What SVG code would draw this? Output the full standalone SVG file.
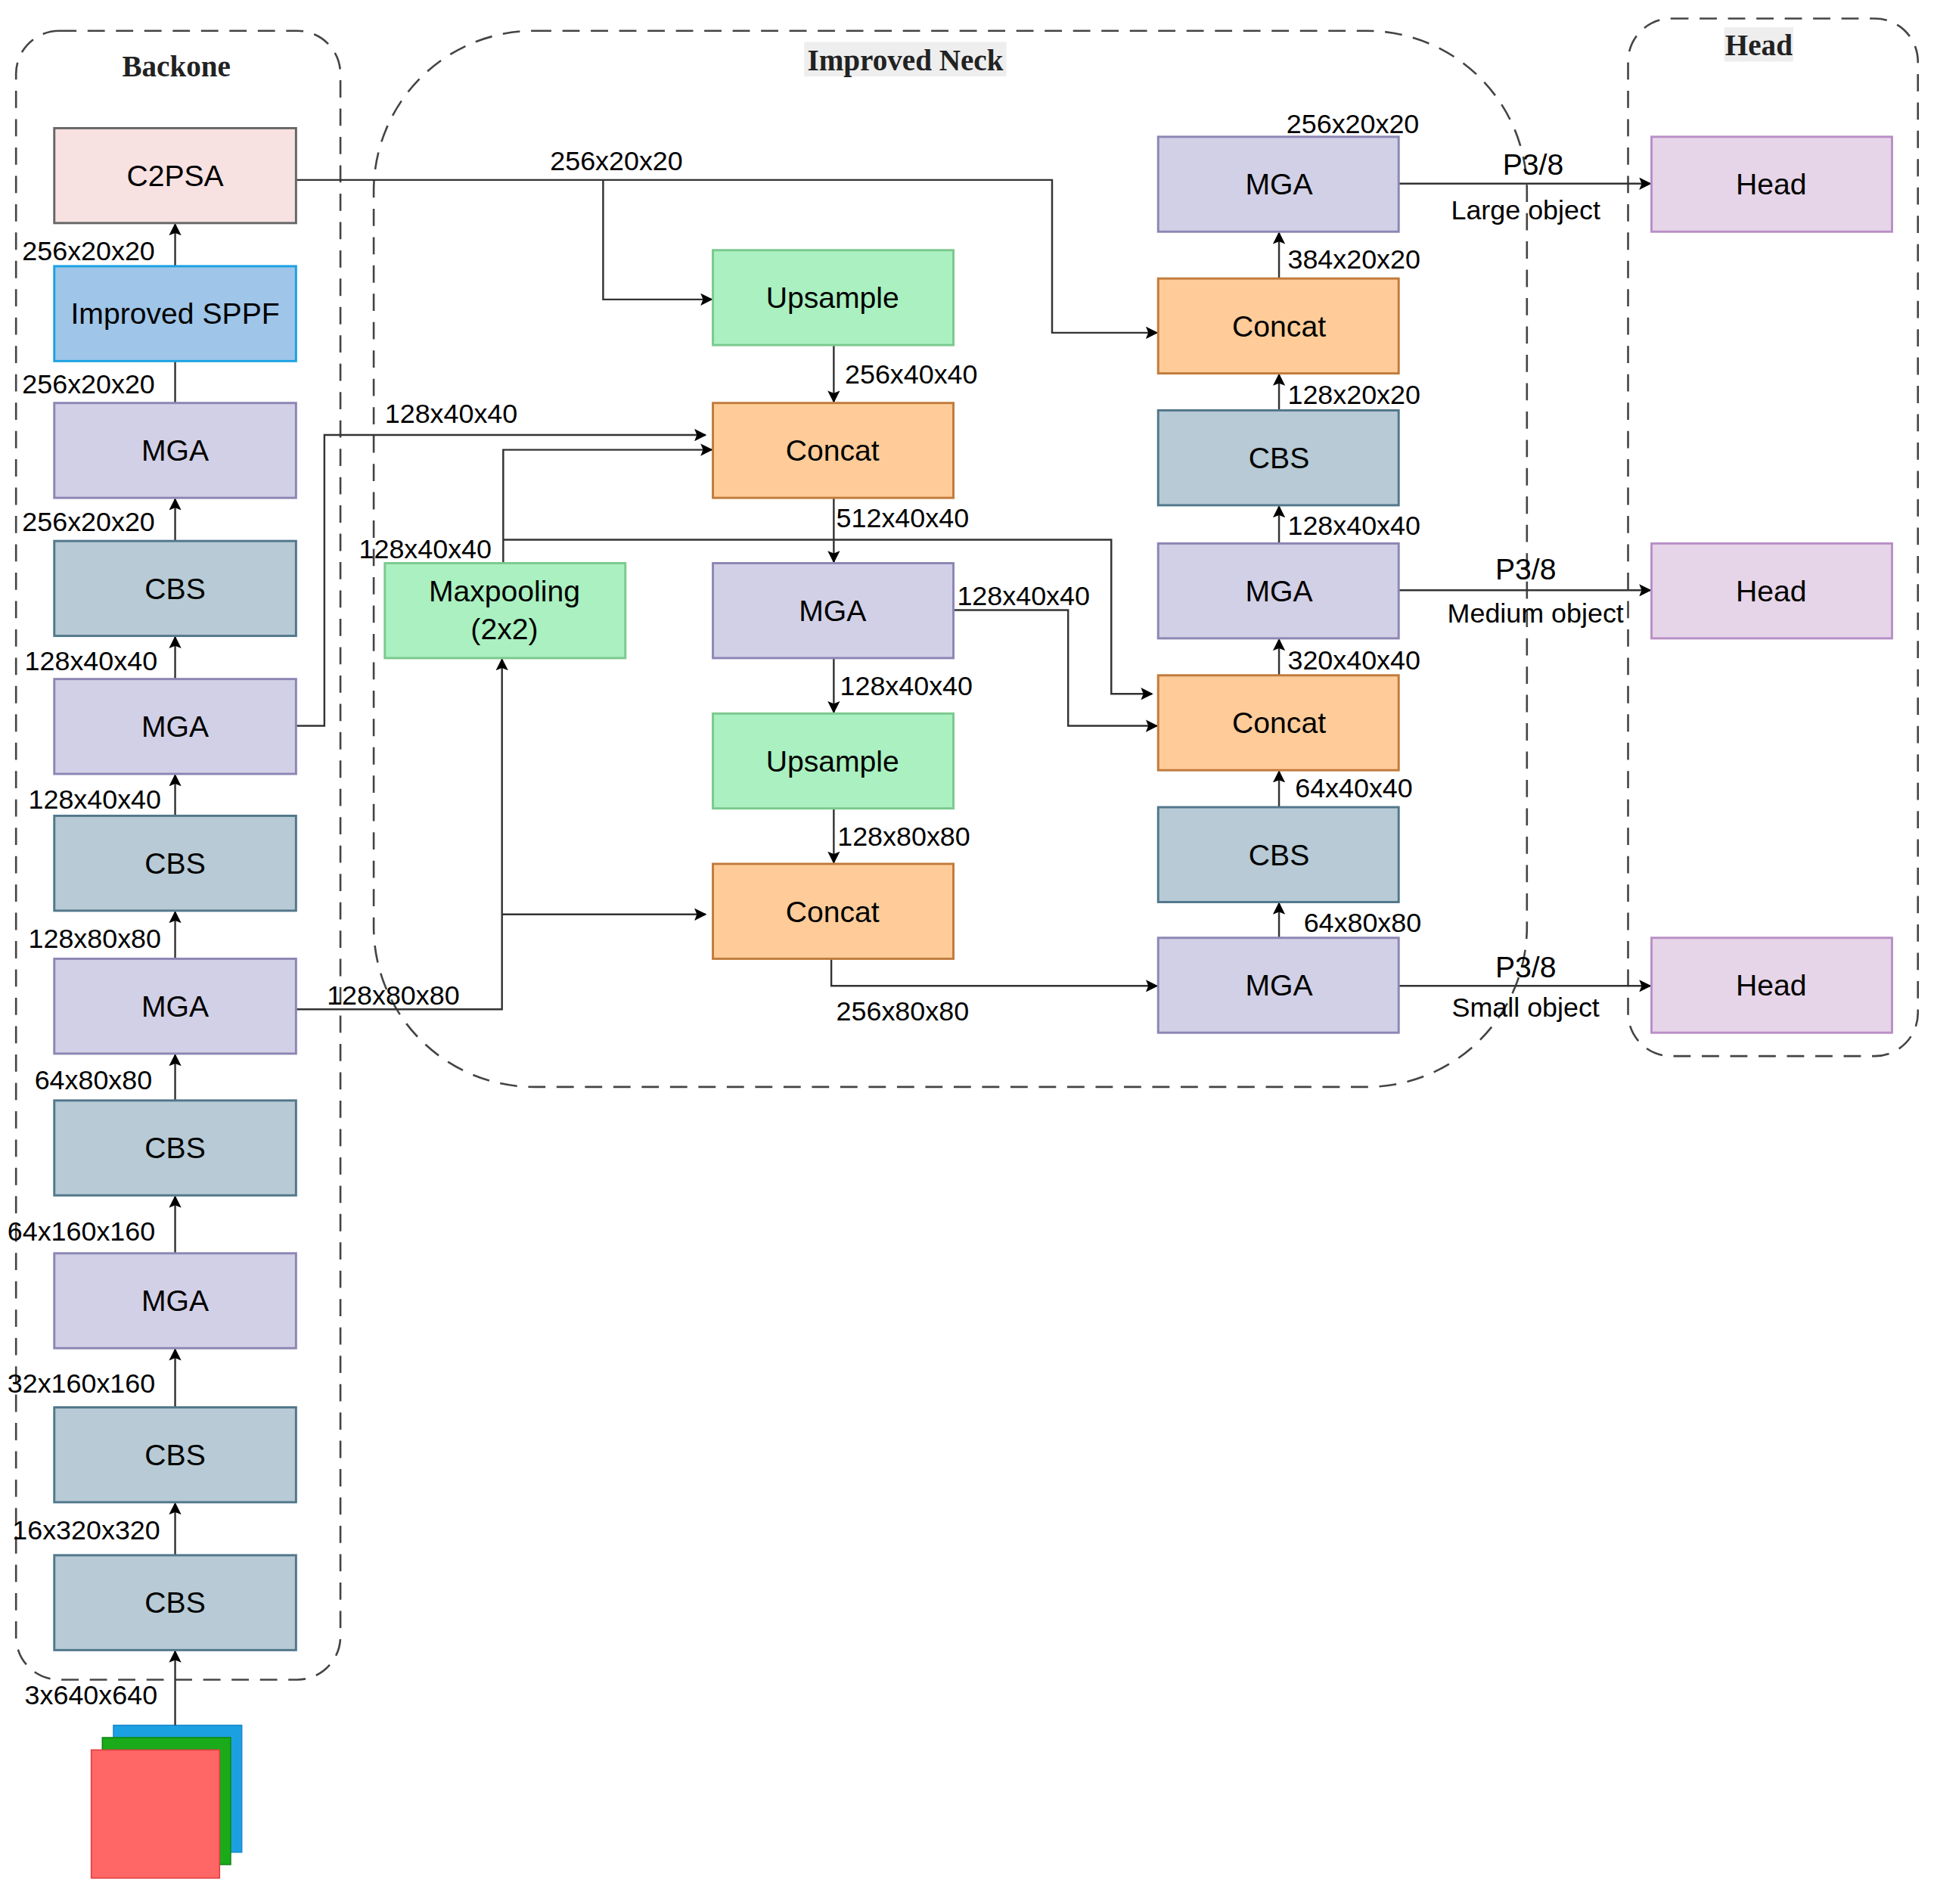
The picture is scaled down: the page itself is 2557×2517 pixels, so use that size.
<svg xmlns="http://www.w3.org/2000/svg" width="2557" height="2517" viewBox="0 0 2557 2517">
<defs>
<marker id="ah" viewBox="0 0 10 10" refX="9" refY="5" markerWidth="10" markerHeight="10" markerUnits="userSpaceOnUse" orient="auto"><path d="M0,0 L10,5 L0,10 L2,5 z" fill="#000"/></marker>
<style>
.grp{fill:none;stroke:#444;stroke-width:1.6;stroke-dasharray:14,9}
.n{stroke-width:1.8}
.c2{fill:#f8e1e1;stroke:#666}
.sp{fill:#9fc5e8;stroke:#1ba1e2}
.mga{fill:#d2d0e6;stroke:#8c86b4}
.cbs{fill:#b7cad5;stroke:#52778b}
.gr{fill:#aaf0c0;stroke:#7bc98e}
.cc{fill:#ffcc99;stroke:#c07b3c}
.hd{fill:#e6d5e8;stroke:#b98fc6}
.t{font-family:"Liberation Sans",Arial,sans-serif;font-size:24px;text-anchor:middle;fill:#000}
.d{font-family:"Liberation Sans",Arial,sans-serif;font-size:22px;fill:#000}
.s{font-family:"Liberation Serif","Times New Roman",serif;font-size:24px;font-weight:bold;text-anchor:middle;fill:#222}
.w{fill:none;stroke:#333;stroke-width:1.5}
.a{fill:none;stroke:#333;stroke-width:1.5;marker-end:url(#ah)}
</style>
</defs>
<rect width="2557" height="2517" fill="#fff"/>
<g transform="scale(1.6307,1.6291)">
<g id="groups">
<rect class="grp" x="13" y="25" width="263" height="1338" rx="35"/>
<rect class="grp" x="303" y="25" width="935" height="857" rx="130"/>
<rect class="grp" x="1320" y="15" width="235" height="842" rx="35"/>
<text class="s" x="143" y="62">Backone</text>
<rect x="652" y="34" width="164" height="28" fill="#eee"/>
<text class="s" x="734" y="57">Improved Neck</text>
<rect x="1398" y="22" width="56" height="28" fill="#eee"/>
<text class="s" x="1426" y="45">Head</text>
</g>
<g id="input">
<rect x="92" y="1400" width="104" height="103" fill="#1ba1e2" stroke="#1a8ad0"/>
<rect x="83" y="1410" width="104" height="103" fill="#1aaa1a" stroke="#118811"/>
<rect x="74" y="1420" width="104" height="104" fill="#ff6666" stroke="#e04040"/>
</g>
<g id="connectors">
<path class="a" d="M142,1400 V1340"/>
<path class="a" d="M142,1262 V1220"/>
<path class="a" d="M142,1142 V1095"/>
<path class="a" d="M142,1017 V971"/>
<path class="a" d="M142,893 V856"/>
<path class="a" d="M142,778 V740"/>
<path class="a" d="M142,662 V629"/>
<path class="a" d="M142,551 V517"/>
<path class="a" d="M142,439 V405"/>
<path class="w" d="M142,327 V293"/>
<path class="a" d="M142,216 V182"/>
<path class="a" d="M240,146 H853 V270 H938"/>
<path class="a" d="M489,146 V243 H577"/>
<path class="a" d="M676,280 V326"/>
<path class="a" d="M240,589 H263 V353 H572"/>
<path class="a" d="M408,457 V365 H577"/>
<path class="a" d="M408,438 H901 V563 H934"/>
<path class="a" d="M676,404 V456"/>
<path class="a" d="M773,495 H866 V589 H938"/>
<path class="a" d="M676,534 V578"/>
<path class="a" d="M676,656 V700"/>
<path class="a" d="M240,819 H407 V535"/>
<path class="a" d="M407,742 H572"/>
<path class="a" d="M674,778 V800 H938"/>
<path class="a" d="M1037,761 V733"/>
<path class="a" d="M1037,655 V626"/>
<path class="a" d="M1037,548 V519"/>
<path class="a" d="M1037,441 V411"/>
<path class="a" d="M1037,333 V304"/>
<path class="a" d="M1037,226 V189"/>
<path class="a" d="M1134,149 H1338"/>
<path class="a" d="M1134,479 H1338"/>
<path class="a" d="M1134,800 H1338"/>
</g>
<g id="labels">
<text class="d" x="18" y="211">256x20x20</text>
<text class="d" x="18" y="319">256x20x20</text>
<text class="d" x="18" y="431">256x20x20</text>
<text class="d" x="20" y="544">128x40x40</text>
<text class="d" x="23" y="656">128x40x40</text>
<text class="d" x="23" y="769">128x80x80</text>
<text class="d" x="28" y="884">64x80x80</text>
<text class="d" x="6" y="1007">64x160x160</text>
<text class="d" x="6" y="1130">32x160x160</text>
<text class="d" x="10" y="1249">16x320x320</text>
<text class="d" x="20" y="1383">3x640x640</text>
<text class="d" x="446" y="138">256x20x20</text>
<text class="d" x="685" y="311">256x40x40</text>
<text class="d" x="312" y="343">128x40x40</text>
<text class="d" x="291" y="453">128x40x40</text>
<text class="d" x="678" y="428">512x40x40</text>
<text class="d" x="776" y="491">128x40x40</text>
<text class="d" x="681" y="564">128x40x40</text>
<text class="d" x="679" y="686">128x80x80</text>
<text class="d" x="265" y="815">128x80x80</text>
<text class="d" x="678" y="828">256x80x80</text>
<text class="d" x="1043" y="108">256x20x20</text>
<text class="d" x="1044" y="218">384x20x20</text>
<text class="d" x="1044" y="328">128x20x20</text>
<text class="d" x="1044" y="434">128x40x40</text>
<text class="d" x="1044" y="543">320x40x40</text>
<text class="d" x="1050" y="647">64x40x40</text>
<text class="d" x="1057" y="756">64x80x80</text>
<text class="t" x="1243" y="142">P3/8</text>
<text class="d" x="1237" y="178" text-anchor="middle">Large object</text>
<text class="t" x="1237" y="470">P3/8</text>
<text class="d" x="1245" y="505" text-anchor="middle">Medium object</text>
<text class="t" x="1237" y="793">P3/8</text>
<text class="d" x="1237" y="825" text-anchor="middle">Small object</text>
</g>
<g id="bb-c2psa"><rect class="n c2" x="44" y="104" width="196" height="77"/><text class="t" x="142" y="151">C2PSA</text></g>
<g id="bb-sppf"><rect class="n sp" x="44" y="216" width="196" height="77"/><text class="t" x="142" y="263">Improved SPPF</text></g>
<g id="bb-mga4"><rect class="n mga" x="44" y="327" width="196" height="77"/><text class="t" x="142" y="374">MGA</text></g>
<g id="bb-cbs5"><rect class="n cbs" x="44" y="439" width="196" height="77"/><text class="t" x="142" y="486">CBS</text></g>
<g id="bb-mga3"><rect class="n mga" x="44" y="551" width="196" height="77"/><text class="t" x="142" y="598">MGA</text></g>
<g id="bb-cbs4"><rect class="n cbs" x="44" y="662" width="196" height="77"/><text class="t" x="142" y="709">CBS</text></g>
<g id="bb-mga2"><rect class="n mga" x="44" y="778" width="196" height="77"/><text class="t" x="142" y="825">MGA</text></g>
<g id="bb-cbs3"><rect class="n cbs" x="44" y="893" width="196" height="77"/><text class="t" x="142" y="940">CBS</text></g>
<g id="bb-mga1"><rect class="n mga" x="44" y="1017" width="196" height="77"/><text class="t" x="142" y="1064">MGA</text></g>
<g id="bb-cbs2"><rect class="n cbs" x="44" y="1142" width="196" height="77"/><text class="t" x="142" y="1189">CBS</text></g>
<g id="bb-cbs1"><rect class="n cbs" x="44" y="1262" width="196" height="77"/><text class="t" x="142" y="1309">CBS</text></g>
<g id="nk-up1"><rect class="n gr" x="578" y="203" width="195" height="77"/><text class="t" x="675" y="250">Upsample</text></g>
<g id="nk-cc1"><rect class="n cc" x="578" y="327" width="195" height="77"/><text class="t" x="675" y="374">Concat</text></g>
<g id="nk-mp"><rect class="n gr" x="312" y="457" width="195" height="77"/><text class="t" x="409" y="488">Maxpooling</text><text class="t" x="409" y="519">(2x2)</text></g>
<g id="nk-mga"><rect class="n mga" x="578" y="457" width="195" height="77"/><text class="t" x="675" y="504">MGA</text></g>
<g id="nk-up2"><rect class="n gr" x="578" y="579" width="195" height="77"/><text class="t" x="675" y="626">Upsample</text></g>
<g id="nk-cc2"><rect class="n cc" x="578" y="701" width="195" height="77"/><text class="t" x="675" y="748">Concat</text></g>
<g id="r-mga1"><rect class="n mga" x="939" y="111" width="195" height="77"/><text class="t" x="1037" y="158">MGA</text></g>
<g id="r-cc1"><rect class="n cc" x="939" y="226" width="195" height="77"/><text class="t" x="1037" y="273">Concat</text></g>
<g id="r-cbs1"><rect class="n cbs" x="939" y="333" width="195" height="77"/><text class="t" x="1037" y="380">CBS</text></g>
<g id="r-mga2"><rect class="n mga" x="939" y="441" width="195" height="77"/><text class="t" x="1037" y="488">MGA</text></g>
<g id="r-cc2"><rect class="n cc" x="939" y="548" width="195" height="77"/><text class="t" x="1037" y="595">Concat</text></g>
<g id="r-cbs2"><rect class="n cbs" x="939" y="655" width="195" height="77"/><text class="t" x="1037" y="702">CBS</text></g>
<g id="r-mga3"><rect class="n mga" x="939" y="761" width="195" height="77"/><text class="t" x="1037" y="808">MGA</text></g>
<g id="head1"><rect class="n hd" x="1339" y="111" width="195" height="77"/><text class="t" x="1436" y="158">Head</text></g>
<g id="head2"><rect class="n hd" x="1339" y="441" width="195" height="77"/><text class="t" x="1436" y="488">Head</text></g>
<g id="head3"><rect class="n hd" x="1339" y="761" width="195" height="77"/><text class="t" x="1436" y="808">Head</text></g>
</g>
</svg>
